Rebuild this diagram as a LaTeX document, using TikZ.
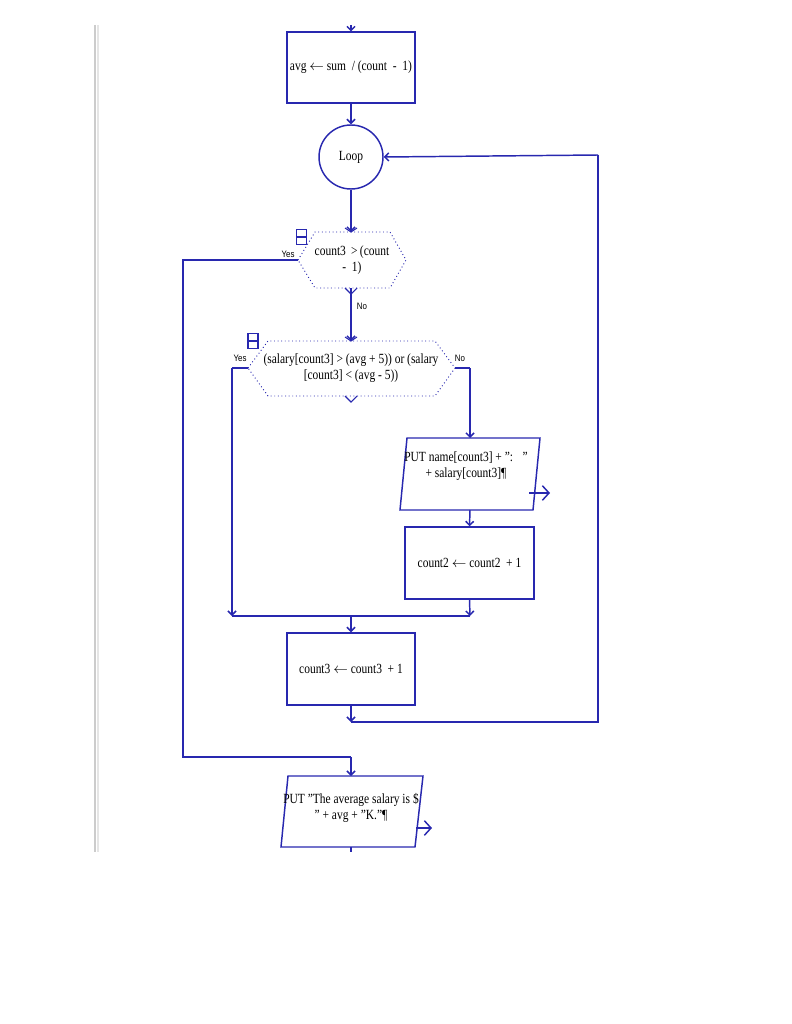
\documentclass[tikz,border=0pt]{standalone}
\usepackage{fontspec}
\setmainfont[FakeStretch=0.82]{Liberation Serif}
\newfontfamily\lsans[FakeStretch=0.85]{Liberation Sans}
\usetikzlibrary{arrows.meta}
\definecolor{fc}{RGB}{40,40,175}
\newcommand{\qq}{\symbol{34}}
\begin{document}
\begin{tikzpicture}[x=0.75pt,y=-0.75pt,
  ln/.style={draw=fc,line width=1.1pt},
  arr/.style={ln,-{Straight Barb[length=3pt,width=6pt]}},
  bx/.style={draw=fc,line width=1.1pt},
  txt/.style={font=\fontsize{10.5}{12}\selectfont,align=center,inner sep=0pt},
  lab/.style={font=\lsans\fontsize{7}{7}\selectfont,inner sep=0pt},
  dec/.style={draw=fc,line width=0.7pt,dotted}]
\useasboundingbox (0,0) rectangle (792,1024);
\draw[gray!40,line width=1pt] (95,25) -- (95,852);
\draw[gray!20,line width=1pt] (98,25) -- (98,852);
% nodes
\node[bx,minimum width=96pt,minimum height=53pt,txt] (b1) at (351,67.5) {avg $\leftarrow$ sum \ / (count \ - \ 1)};
\node[bx,circle,minimum size=48pt,txt] (loop) at (351,157) {Loop};
\coordinate (d1t) at (351,232); \coordinate (d1b) at (351,288);
\coordinate (d1l) at (298,260); \coordinate (d1r) at (406,260);
\draw[dec] (d1l) -- (315,232) -- (390,232) -- (d1r) -- (390,288) -- (315,288) -- cycle;
\draw[fc,line width=0.8pt] (345,228) -- (d1t) -- (357,228) (345,288) -- (351,294) -- (357,288);
\node[txt] (t1) at (352,260) {count3 \,>\,(count\\ - \ 1)};
\node[draw=fc,line width=0.9pt,minimum width=7.5pt,minimum height=11pt,inner sep=0pt] (ic1) at (301.5,237) {};
\draw[fc,line width=0.9pt] (ic1.west) -- (ic1.east);
\coordinate (d2t) at (351,341); \coordinate (d2b) at (351,396);
\coordinate (d2l) at (248,368); \coordinate (d2r) at (455,368);
\draw[dec] (d2l) -- (268,341) -- (435,341) -- (d2r) -- (435,396) -- (268,396) -- cycle;
\draw[fc,line width=0.8pt] (345,337) -- (d2t) -- (357,337) (345,396) -- (351,402) -- (357,396);
\node[txt] (t2) at (351,368) {(salary[count3] > (avg + 5)) or (salary\\ {}[count3] < (avg - 5))};
\node[draw=fc,line width=0.9pt,minimum width=7.5pt,minimum height=11pt,inner sep=0pt] (ic2) at (253,341) {};
\draw[fc,line width=0.9pt] (ic2.west) -- (ic2.east);
\node[lab] (y1) at (288,254) {Yes};
\node[lab] (n1) at (362,306) {No};
\node[lab] (y2) at (240,358) {Yes};
\node[lab] (n2) at (460,358) {No};
% PUT1
\draw[ln] (407,438) -- (540,438) -- (533,510) -- (400,510) -- cycle;
\coordinate (p1t) at (470,438); \coordinate (p1b) at (470,510);
\node[txt] (p1) at (466,466) {PUT name[count3] + \qq: \ \ \qq\\ + salary[count3]¶};
\coordinate (o1a) at (529,493); \coordinate (o1b) at (550,493);
\draw[arr,-{Straight Barb[length=5pt,width=11pt]}] (o1a) -- (o1b);
\node[bx,minimum width=97pt,minimum height=54pt,txt] (b2) at (469.5,563) {count2 $\leftarrow$ count2 \ + 1};
\node[bx,minimum width=96pt,minimum height=54pt,txt] (b3) at (351,669) {count3 $\leftarrow$ count3 \ + 1};
% PUT2
\draw[ln] (288,776) -- (423,776) -- (415,847) -- (281,847) -- cycle;
\coordinate (p2t) at (351,776); \coordinate (p2b) at (351,847);
\node[txt] (p2) at (351,808) {PUT \qq The average salary is \$\\ \qq\ + avg + \qq K.\qq¶};
\coordinate (o2a) at (416,828); \coordinate (o2b) at (432,828);
\draw[arr,-{Straight Barb[length=5pt,width=11pt]}] (o2a) -- (o2b);
% connectors
\coordinate (top) at (351,25); \coordinate (bot) at (351,852);
\coordinate (m) at (351,616); \coordinate (lp) at (351,722);
\coordinate (ye) at (351,757);
\draw[arr] (top) -- (b1.north);
\draw[arr] (b1.south) -- (loop.north);
\draw[arr] (loop.south) -- (d1t);
\draw[arr] (d1b) -- (d2t);
\draw[ln] (d1l) -- (183,260) -- (183,757) -- (ye);
\draw[arr] (ye) -- (p2t);
\draw[ln] (d2r) -- (470,368);
\draw[arr] (470,368) -- (p1t);
\draw[arr] (p1b) -- (b2.north);
\draw[arr] (b2.south) -- (470,616);
\draw[ln] (470,616) -- (m);
\draw[ln] (d2l) -- (232,368);
\draw[arr] (232,368) -- (232,616);
\draw[ln] (232,616) -- (m);
\draw[arr] (m) -- (b3.north);
\draw[arr] (b3.south) -- (lp);
\draw[ln] (lp) -- (598,722) -- (598,155);
\draw[arr] (598,155) -- (loop.east);
\draw[ln] (p2b) -- (bot);
\end{tikzpicture}
\end{document}
